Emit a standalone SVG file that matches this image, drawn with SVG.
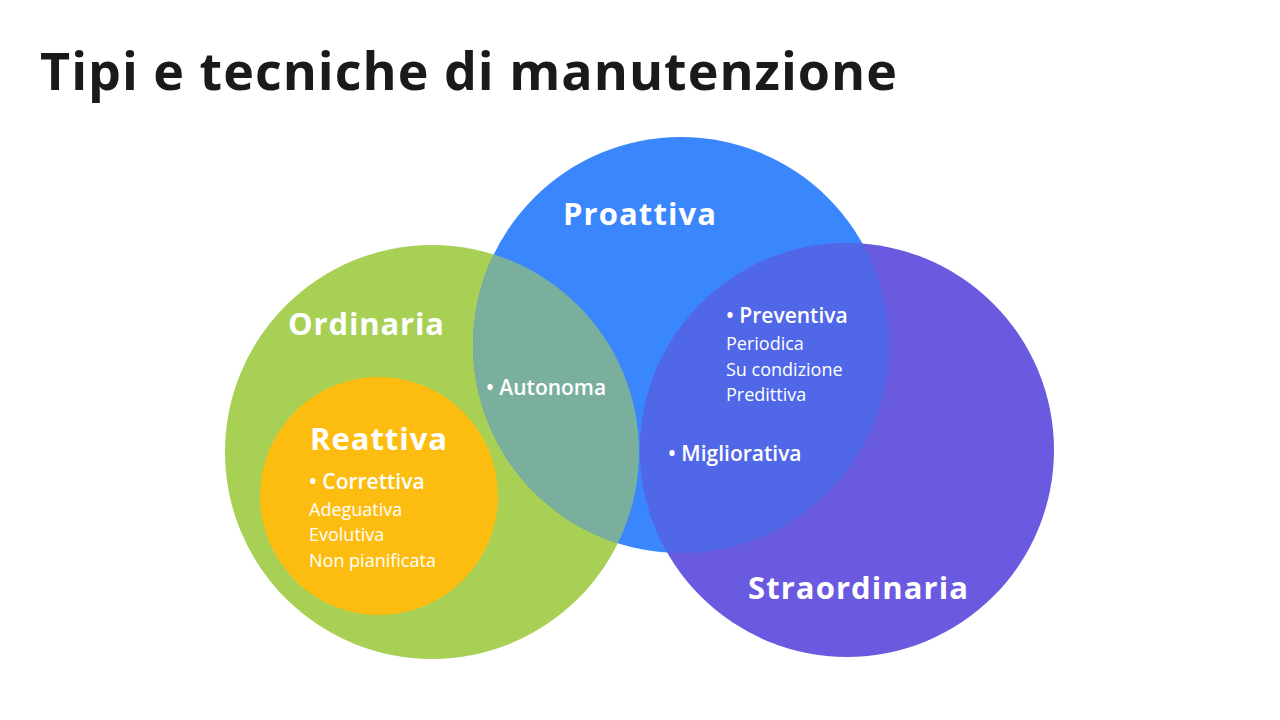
<svg xmlns="http://www.w3.org/2000/svg" width="1280" height="720" viewBox="0 0 1280 720">
<style>
text{font-family:"Open Sans","Noto Sans",sans-serif;fill:#fff}
.t{font-weight:700;fill:#1a1a1a;font-size:52px}
.h{font-weight:700;font-size:31px}
.b{font-size:21px;font-weight:600}
.s{font-size:18px}
</style>
<defs>
<clipPath id="cb"><circle cx="681" cy="345" r="208"/></clipPath>
</defs>
<rect width="1280" height="720" fill="#fff"/>
<text class="t" x="40" y="90" textLength="857">Tipi e tecniche di manutenzione</text>
<g id="ordinaria"><circle cx="432" cy="452" r="207" fill="#a8d055"/></g>
<g id="proattiva"><circle cx="681" cy="345" r="208" fill="#3a86fd"/></g>
<g id="straordinaria"><circle cx="847" cy="450" r="207" fill="#6a5adf"/></g>
<g id="intersections" clip-path="url(#cb)">
<circle cx="432" cy="452" r="207" fill="#7aaf9e"/>
<circle cx="847" cy="450" r="207" fill="#5068e8"/>
</g>
<g id="reattiva"><circle cx="379" cy="496" r="119" fill="#fdbd10"/></g>
<g id="connectors"/>
<g id="labels">
<text class="h" x="563" y="225" textLength="153">Proattiva</text>
<text class="h" x="288" y="335" textLength="156">Ordinaria</text>
<text class="h" x="310" y="450" textLength="137">Reattiva</text>
<text class="h" x="748" y="599" textLength="220">Straordinaria</text>
<text class="b" x="486" y="395">• Autonoma</text>
<text class="b" x="726" y="323">• Preventiva</text>
<text class="s" x="726" y="350">Periodica</text>
<text class="s" x="726" y="376">Su condizione</text>
<text class="s" x="726" y="401">Predittiva</text>
<text class="b" x="668" y="461">• Migliorativa</text>
<text class="b" x="309" y="489">• Correttiva</text>
<text class="s" x="309" y="516">Adeguativa</text>
<text class="s" x="309" y="541">Evolutiva</text>
<text class="s" x="309" y="567">Non pianificata</text>
</g>
</svg>
